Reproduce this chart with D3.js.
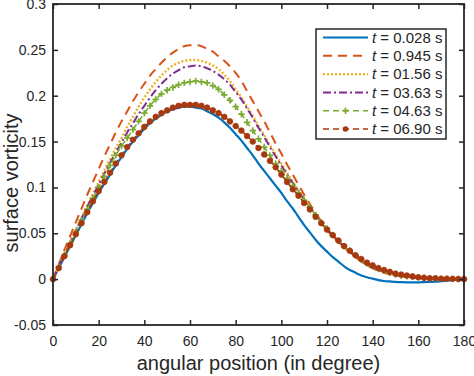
<!DOCTYPE html>
<html><head><meta charset="utf-8">
<script src="https://cdn.jsdelivr.net/npm/d3@7"></script>
<style>
html,body{margin:0;padding:0;background:#fff;}
text{font-family:"Liberation Sans",Arial,Helvetica,sans-serif;fill:#262626;}
</style></head>
<body>
<svg id="chart" width="474" height="376"></svg>
<script>
const angles = [0,2.5,5,7.5,10,12.5,15,17.5,20,22.5,25,27.5,30,32.5,35,37.5,40,42.5,45,47.5,50,52.5,55,57.5,60,62.5,65,67.5,70,72.5,75,77.5,80,82.5,85,87.5,90,92.5,95,97.5,100,102.5,105,107.5,110,112.5,115,117.5,120,122.5,125,127.5,130,132.5,135,137.5,140,142.5,145,147.5,150,152.5,155,157.5,160,162.5,165,167.5,170,172.5,175,177.5,180];

const s0028 = [0,.012,.024,.036,.048,.060,.072,.083,.094,.104,
 .114,.124,.133,.142,.150,.157,.164,.170,.175,.179,
 .183,.185,.187,.188,.188,.187,.186,.183,.180,.176,
 .171,.165,.158,.151,.143,.135,.126,.118,.110,.102,
 .094,.085,.077,.068,.059,.051,.043,.036,.030,.024,
 .019,.014,.010,.007,.004,.002,.0005,-.001,-.002,-.0025,
 -.003,-.0033,-.0035,-.0035,-.0035,-.0033,-.003,-.0027,-.0022,-.0017,
 -.0011,-.0005,0];

const s0945 = [0,.016,.032,.047,.062,.077,.092,.106,.120,.134,
 .147,.160,.172,.183,.194,.204,.213,.222,.229,.236,
 .242,.247,.251,.254,.255,.255,.254,.251,.248,.243,
 .238,.232,.225,.216,.205,.194,.183,.172,.160,.148,
 .137,.125,.114,.103,.092,.082,.072,.063,.055,.048,
 .041,.035,.029,.024,.019,.015,.012,.009,.007,.005,
 .004,.003,.002,.0015,.001,.0008,.0006,.0005,.0004,.0003,
 .0002,.0001,0];

const s156 = [0,.014,.028,.041,.054,.067,.080,.093,.106,.119,
 .131,.143,.154,.166,.177,.188,.198,.207,.215,.222,
 .228,.233,.236,.238,.239,.239,.238,.236,.233,.229,
 .223,.216,.207,.198,.188,.178,.167,.157,.146,.136,
 .126,.116,.106,.097,.088,.079,.070,.062,.054,.047,
 .041,.035,.030,.025,.020,.016,.013,.010,.008,.006,
 .0045,.0035,.0025,.002,.0015,.001,.0008,.0006,.0004,.0003,
 .0002,.0001,0];

const s363 = [0,.014,.027,.040,.053,.066,.079,.091,.103,.115,
 .127,.138,.149,.160,.170,.180,.189,.198,.206,.213,
 .219,.224,.228,.231,.232,.233,.232,.230,.227,.223,
 .218,.212,.204,.196,.186,.176,.165,.155,.144,.134,
 .124,.114,.105,.096,.087,.078,.070,.062,.054,.047,
 .041,.035,.030,.025,.020,.016,.013,.010,.008,.006,
 .0045,.0035,.0028,.002,.0015,.0012,.0009,.0007,.0005,.0003,
 .0002,.0001,0];

const s463 = [0,.013,.026,.039,.051,.064,.076,.088,.100,.112,
 .124,.135,.145,.154,.163,.172,.181,.189,.196,.202,
 .206,.209,.212,.214,.215,.216,.215,.214,.211,.207,
 .201,.195,.188,.180,.171,.162,.153,.144,.135,.126,
 .118,.110,.102,.094,.086,.078,.070,.062,.055,.048,
 .042,.036,.031,.026,.021,.017,.014,.011,.009,.007,
 .005,.004,.003,.0025,.002,.0015,.001,.0008,.0006,.0004,
 .0003,.0001,0];

const s690 = [0,.012,.025,.037,.049,.061,.073,.085,.096,.106,
 .116,.126,.135,.144,.152,.159,.166,.172,.177,.181,
 .184,.187,.189,.190,.190,.190,.189,.187,.184,.181,
 .177,.172,.167,.162,.156,.150,.143,.136,.129,.122,
 .114,.106,.098,.091,.083,.076,.068,.061,.054,.048,
 .042,.036,.031,.026,.022,.018,.015,.012,.010,.008,
 .006,.005,.004,.003,.002,.0015,.001,.001,.0005,.0005,
 .0003,.0002,0];

const legendTimes = ["0.028","0.945","01.56","03.63","04.63","06.90"];
const xTicks = [0,20,40,60,80,100,120,140,160,180];
const yTicks = [-0.05,0,0.05,0.1,0.15,0.2,0.25,0.3];
const yTickLabels = ["-0.05","0","0.05","0.1","0.15","0.2","0.25","0.3"];

const seriesValues = [s0028, s0945, s156, s363, s463, s690];
const styles = [
  {color:"#0072BD", dash:null, width:2.2, marker:null},
  {color:"#D95319", dash:"9,6", width:2, marker:null},
  {color:"#EDB120", dash:"2,2", width:2.4, marker:null},
  {color:"#7E2F8E", dash:"8,3,2,3", width:2, marker:null},
  {color:"#77AC30", dash:"6,4", width:1.6, marker:"plus"},
  {color:"#A8380F", dash:"6,4", width:1.6, marker:"circle"}
];

const svg = d3.select("#chart");
const L=53, R=464, T=4, B=325;
const x = d3.scaleLinear().domain([0,180]).range([L,R]);
const y = d3.scaleLinear().domain([-0.05,0.3]).range([B,T]);

const line = d3.line().x(d=>x(d[0])).y(d=>y(d[1])).curve(d3.curveMonotoneX);

const plot = svg.append("g");
seriesValues.forEach((vals,i)=>{
  const st = styles[i];
  const pts = angles.map((a,j)=>[a, vals[j]]);
  plot.append("path").datum(pts)
    .attr("d", line).attr("fill","none")
    .attr("stroke", st.color).attr("stroke-width", st.width)
    .attr("stroke-dasharray", st.dash);
  if (st.marker==="plus"){
    plot.append("g").selectAll("path").data(pts).join("path")
      .attr("d", d=>{const cx=x(d[0]), cy=y(d[1]); return `M${cx-3.2},${cy}H${cx+3.2}M${cx},${cy-3.2}V${cy+3.2}`;})
      .attr("stroke", st.color).attr("stroke-width",1.7).attr("fill","none");
  } else if (st.marker==="circle"){
    plot.append("g").selectAll("circle").data(pts).join("circle")
      .attr("cx", d=>x(d[0])).attr("cy", d=>y(d[1])).attr("r", 2.8)
      .attr("fill", st.color).attr("stroke", st.color).attr("stroke-width",0.8);
  }
});

// axes
const axStyle = g => { g.select(".domain").remove(); g.selectAll("line").attr("stroke","#262626").attr("stroke-width",1.5); g.selectAll("text").style("font-size","14px").attr("fill","#262626"); };
svg.append("g").attr("transform",`translate(0,${B})`)
  .call(d3.axisBottom(x).tickValues(xTicks).tickSizeInner(-5).tickSizeOuter(0).tickPadding(11).tickFormat(d3.format("d")))
  .call(axStyle);
svg.append("g").attr("transform",`translate(0,${T})`)
  .call(d3.axisTop(x).tickValues(xTicks).tickSizeInner(-5).tickSizeOuter(0).tickFormat(""))
  .call(axStyle);
svg.append("g").attr("transform",`translate(${L},0)`)
  .call(d3.axisLeft(y).tickValues(yTicks).tickSizeInner(-5).tickSizeOuter(0).tickPadding(7).tickFormat((d,i)=>yTickLabels[i]))
  .call(axStyle);
svg.append("g").attr("transform",`translate(${R},0)`)
  .call(d3.axisRight(y).tickValues(yTicks).tickSizeInner(-5).tickSizeOuter(0).tickFormat(""))
  .call(axStyle);
svg.selectAll("g.tick text").attr("font-family","Liberation Sans, Arial, sans-serif");

svg.append("rect").attr("x",L).attr("y",T).attr("width",R-L).attr("height",B-T)
  .attr("fill","none").attr("stroke","#262626").attr("stroke-width",1.8);

// axis labels
svg.append("text").attr("x",(L+R)/2).attr("y",370).attr("text-anchor","middle")
  .style("font-size","20px").text("angular position (in degree)");
svg.append("text").attr("transform","translate(18,183) rotate(-90)").attr("text-anchor","middle")
  .style("font-size","20px").text("surface vorticity");

// legend
const lg = svg.append("g");
lg.append("rect").attr("x",316).attr("y",29).attr("width",130).attr("height",110)
  .attr("fill","#fff").attr("stroke","#262626").attr("stroke-width",1.5);
legendTimes.forEach((t,i)=>{
  const st = styles[i];
  const cy = 37.5 + i*18.3;
  lg.append("line").attr("x1",323).attr("x2",368).attr("y1",cy).attr("y2",cy)
    .attr("stroke",st.color).attr("stroke-width",st.width).attr("stroke-dasharray",st.dash);
  if (st.marker==="plus"){
    lg.append("path").attr("d",`M${345.5-3.2},${cy}H${345.5+3.2}M345.5,${cy-3.2}V${cy+3.2}`)
      .attr("stroke",st.color).attr("stroke-width",1.7);
  } else if (st.marker==="circle"){
    lg.append("circle").attr("cx",345.5).attr("cy",cy).attr("r",2.8).attr("fill",st.color);
  }
  const tx = lg.append("text").attr("x",372).attr("y",cy+5.3).style("font-size","15px");
  tx.append("tspan").style("font-style","italic").text("t");
  tx.append("tspan").text(" = " + t + " s");
});
</script>
</body></html>
